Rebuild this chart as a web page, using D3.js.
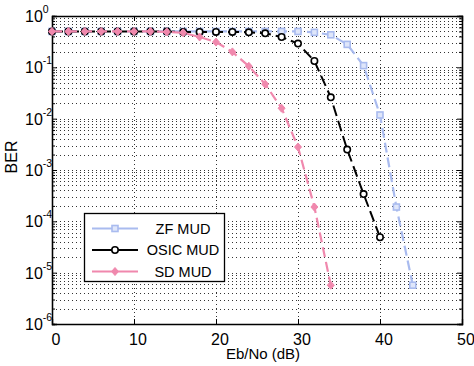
<!DOCTYPE html>
<html><head><meta charset="utf-8">
<script src="https://cdn.jsdelivr.net/npm/d3@7"></script>
<style>body{margin:0;background:#fff}svg{display:block;font-family:"Liberation Sans",Arial,sans-serif}</style>
</head><body><svg id="c" width="474" height="366"></svg>
<script>
const snr = [0,2,4,6,8,10,12,14,16,18,20,22,24,26,28,30,32,34,36,38,40,42,44];
const zfX = snr.slice(0,23);
const zfBer = [0.5,0.5,0.5,0.5,0.5,0.5,0.5,0.5,0.5,0.5,0.5,0.5,0.5,0.5,0.5,0.5,0.48,0.43,0.28,0.108,0.0118,1.9e-4,5.7e-6];
const osicX = snr.slice(0,21);
const osicBer = [0.5,0.5,0.5,0.5,0.5,0.5,0.5,0.5,0.49,0.49,0.49,0.49,0.48,0.46,0.39,0.29,0.133,0.026,2.5e-3,3.4e-4,4.9e-5];
const sdX = snr.slice(0,18);
const sdBer = [0.5,0.5,0.5,0.5,0.5,0.5,0.5,0.49,0.47,0.39,0.31,0.2,0.105,0.047,0.016,2.8e-3,1.9e-4,5.7e-6];
const xTicks = [0,10,20,30,40,50];
const yExps = [0,-1,-2,-3,-4,-5,-6];
const legendNames = ["ZF MUD","OSIC MUD","SD MUD"];

const svg = d3.select("#c");
const L=52,R=462,T=16,B=324;
const x = d3.scaleLinear().domain([0,50]).range([L,R]);
const y = d3.scaleLog().domain([1e-6,1]).range([B,T]);

// grid
const g = svg.append("g");
const minorY = [];
for (let e=-6;e<0;e++) for (let k=2;k<=9;k++) minorY.push(k*Math.pow(10,e));
g.selectAll(".gy").data(minorY.concat(yExps.map(e=>Math.pow(10,e)))).join("line")
 .attr("x1",L).attr("x2",R).attr("y1",d=>Math.round(y(d))+0.5).attr("y2",d=>Math.round(y(d))+0.5)
 .attr("stroke","#333").attr("stroke-width",1).attr("stroke-dasharray","1,3");
g.selectAll(".gx").data(xTicks).join("line")
 .attr("y1",T).attr("y2",B).attr("x1",d=>Math.round(x(d))+0.5).attr("x2",d=>Math.round(x(d))+0.5)
 .attr("stroke","#333").attr("stroke-width",1).attr("stroke-dasharray","1,3");

// axes with d3
const axB = d3.axisBottom(x).tickValues(xTicks).tickSize(-5).tickFormat("");
const axT = d3.axisTop(x).tickValues(xTicks).tickSize(-5).tickFormat("");
const axL = d3.axisLeft(y).tickValues(yExps.map(e=>Math.pow(10,e))).tickSize(-5).tickFormat("");
const axR = d3.axisRight(y).tickValues(yExps.map(e=>Math.pow(10,e))).tickSize(-5).tickFormat("");
const axLm = d3.axisLeft(y).tickValues(minorY).tickSize(-3).tickFormat("");
const axRm = d3.axisRight(y).tickValues(minorY).tickSize(-3).tickFormat("");
function st(s){s.select(".domain").attr("stroke","#000").attr("stroke-width",1.3);s.selectAll(".tick line").attr("stroke","#000");}
svg.append("g").attr("transform",`translate(0,${B})`).call(axB).call(st);
svg.append("g").attr("transform",`translate(0,${T})`).call(axT).call(st);
svg.append("g").attr("transform",`translate(${L},0)`).call(axL).call(st);
svg.append("g").attr("transform",`translate(${R},0)`).call(axR).call(st);
svg.append("g").attr("transform",`translate(${L},0)`).call(axLm).call(st);
svg.append("g").attr("transform",`translate(${R},0)`).call(axRm).call(st);
svg.selectAll(".domain").attr("fill","none");

// tick labels
svg.selectAll(".xl").data(xTicks).join("text").attr("x",d=>x(d)+4).attr("y",345)
 .attr("text-anchor","middle").attr("font-size",16).text(d=>d);
const yl = svg.selectAll(".yl").data(yExps).join("text").attr("x",25).attr("y",d=>y(Math.pow(10,d))+6)
 .attr("font-size",16);
yl.append("tspan").text("10");
yl.append("tspan").attr("dy",-9).attr("font-size",10.5).text(d=>d===0?"0":"-"+(-d));

svg.append("text").attr("x",263).attr("y",359).attr("text-anchor","middle").attr("font-size",15).text("Eb/No (dB)");
svg.append("text").attr("transform","translate(17,157) rotate(-90)").attr("text-anchor","middle").attr("font-size",16).text("BER");

// series
const series = [
 {name:legendNames[0], xs:zfX, ys:zfBer, color:"#a9bbef", dash:"10,5", marker:"square"},
 {name:legendNames[1], xs:osicX, ys:osicBer, color:"#000000", dash:"11,5", marker:"circle"},
 {name:legendNames[2], xs:sdX, ys:sdBer, color:"#f088ad", dash:"10,5", marker:"diamond"}
];
const line = d3.line().x(d=>x(d[0])).y(d=>y(d[1]));
function drawMarker(sel, s, cx, cy){
  if (s.marker==="square") sel.append("rect").attr("x",cx-3).attr("y",cy-3).attr("width",6).attr("height",6)
     .attr("fill","#dfe6fa").attr("stroke",s.color).attr("stroke-width",1.6);
  else if (s.marker==="circle") sel.append("circle").attr("cx",cx).attr("cy",cy).attr("r",3.2)
     .attr("fill","#fff").attr("stroke",s.color).attr("stroke-width",1.6);
  else sel.append("path").attr("d",`M${cx},${cy-4}L${cx+3.5},${cy}L${cx},${cy+4}L${cx-3.5},${cy}Z`)
     .attr("fill",s.color).attr("stroke",s.color).attr("stroke-width",1);
}
series.forEach(s=>{
  const pts = s.xs.map((v,i)=>[v,s.ys[i]]);
  const gg = svg.append("g");
  gg.append("path").attr("d",line(pts)).attr("fill","none").attr("stroke",s.color)
    .attr("stroke-width",s.color==="#000000"?2:2.2).attr("stroke-dasharray",s.dash);
  pts.forEach(p=>drawMarker(gg,s,x(p[0]),y(p[1])));
});

// legend
const lg = svg.append("g");
lg.append("rect").attr("x",84.5).attr("y",213.5).attr("width",140).attr("height",68)
  .attr("fill","#fff").attr("stroke","#000").attr("stroke-width",1.3);
series.forEach((s,i)=>{
  const yy = 228.5 + i*21.5;
  lg.append("line").attr("x1",92).attr("x2",138).attr("y1",yy).attr("y2",yy)
    .attr("stroke",s.color).attr("stroke-width",2);
  drawMarker(lg,s,115,yy);
  lg.append("text").attr("x",183).attr("y",yy+5).attr("text-anchor","middle").attr("font-size",14.5).text(s.name);
});
</script></body></html>
